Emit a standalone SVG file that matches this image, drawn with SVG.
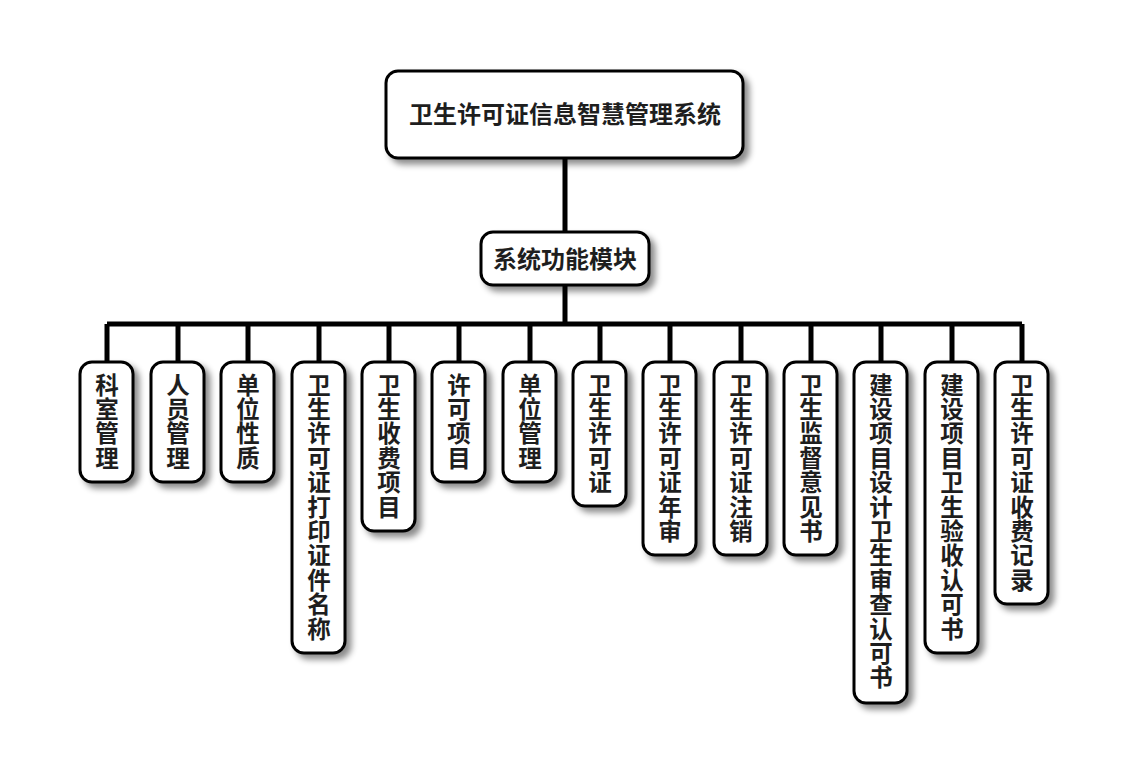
<svg xmlns="http://www.w3.org/2000/svg" width="1128" height="779" viewBox="0 0 1128 779">
<defs>
<filter id="sh" x="-30%" y="-30%" width="160%" height="160%">
<feDropShadow dx="5" dy="5" stdDeviation="3" flood-color="#000" flood-opacity="0.45"/>
</filter>
<style>
.box{fill:#fff;stroke:#000;stroke-width:3;filter:url(#sh)}
.t{font-family:"Microsoft YaHei","Noto Sans CJK SC",sans-serif;font-weight:bold;font-size:24px;fill:#1e1e1e;text-anchor:middle}
.v{font-family:"Microsoft YaHei","Noto Sans CJK SC",sans-serif;font-weight:bold;font-size:23.5px;fill:#1e1e1e;writing-mode:vertical-rl;text-orientation:upright;letter-spacing:0.9px}
.c{fill:none;stroke:#000;stroke-width:5}
</style>
</defs>
<rect width="1128" height="779" fill="#fff"/>
<g id="connectors">
<path class="c" d="M565 158V232M565 285V324M107 324H1022M107 324V362M178 324V362M248 324V362M319 324V362M389 324V362M459 324V362M530 324V362M600 324V362M670 324V362M741 324V362M811 324V362M881 324V362M952 324V362M1022 324V362"/>
</g>
<g id="root"><rect class="box" x="386" y="71" width="357" height="87" rx="12"/><text class="t" x="565" y="123">卫生许可证信息智慧管理系统</text></g>
<g id="module"><rect class="box" x="481" y="232" width="168" height="53" rx="12"/><text class="t" x="565" y="268">系统功能模块</text></g>
<g id="n1"><rect class="box" x="80" y="362" width="53" height="120" rx="12"/><text class="v" x="107" y="373">科室管理</text></g>
<g id="n2"><rect class="box" x="151" y="362" width="53" height="120" rx="12"/><text class="v" x="178" y="373">人员管理</text></g>
<g id="n3"><rect class="box" x="221" y="362" width="53" height="120" rx="12"/><text class="v" x="248" y="373">单位性质</text></g>
<g id="n4"><rect class="box" x="292" y="362" width="53" height="291" rx="12"/><text class="v" x="319" y="373">卫生许可证打印证件名称</text></g>
<g id="n5"><rect class="box" x="362" y="362" width="53" height="169" rx="12"/><text class="v" x="389" y="373">卫生收费项目</text></g>
<g id="n6"><rect class="box" x="432" y="362" width="53" height="120" rx="12"/><text class="v" x="459" y="373">许可项目</text></g>
<g id="n7"><rect class="box" x="503" y="362" width="53" height="120" rx="12"/><text class="v" x="530" y="373">单位管理</text></g>
<g id="n8"><rect class="box" x="573" y="362" width="53" height="144" rx="12"/><text class="v" x="600" y="373">卫生许可证</text></g>
<g id="n9"><rect class="box" x="643" y="362" width="53" height="193" rx="12"/><text class="v" x="670" y="373">卫生许可证年审</text></g>
<g id="n10"><rect class="box" x="714" y="362" width="53" height="193" rx="12"/><text class="v" x="741" y="373">卫生许可证注销</text></g>
<g id="n11"><rect class="box" x="784" y="362" width="53" height="193" rx="12"/><text class="v" x="811" y="373">卫生监督意见书</text></g>
<g id="n12"><rect class="box" x="854" y="362" width="53" height="341" rx="12"/><text class="v" x="881" y="373">建设项目设计卫生审查认可书</text></g>
<g id="n13"><rect class="box" x="925" y="362" width="53" height="291" rx="12"/><text class="v" x="952" y="373">建设项目卫生验收认可书</text></g>
<g id="n14"><rect class="box" x="995" y="362" width="53" height="242" rx="12"/><text class="v" x="1022" y="373">卫生许可证收费记录</text></g>
</svg>
